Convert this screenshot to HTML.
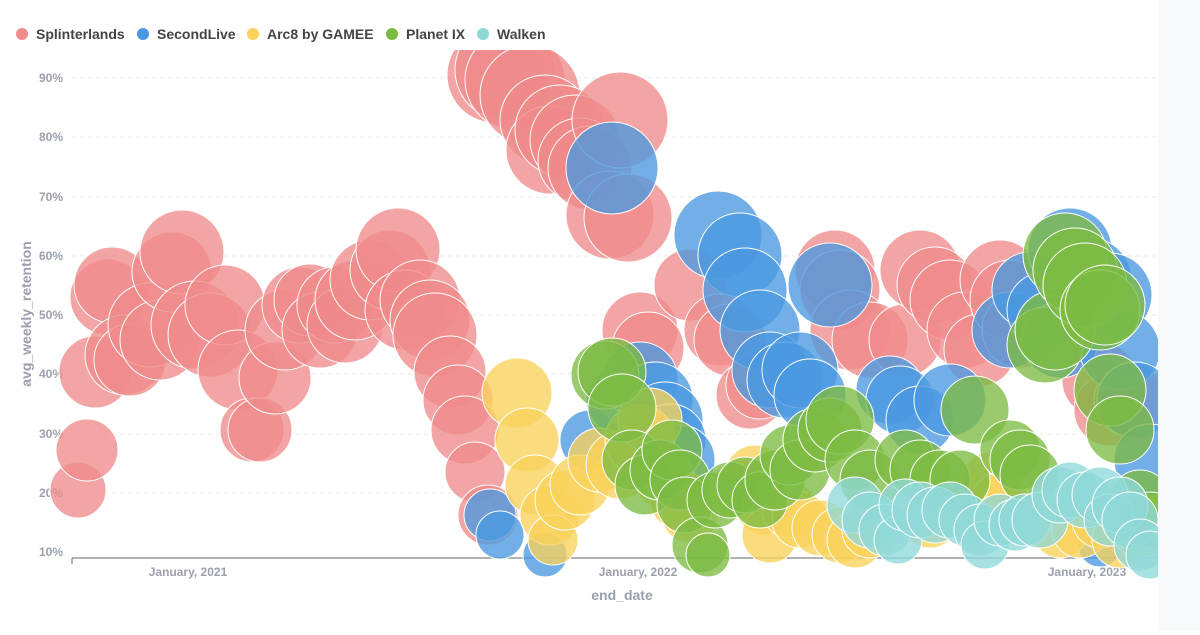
<!DOCTYPE html>
<html><head><meta charset="utf-8"><style>
body{margin:0;width:1200px;height:630px;background:#fff;font-family:"Liberation Sans",sans-serif;overflow:hidden}
</style></head><body>
<svg width="1200" height="630" xmlns="http://www.w3.org/2000/svg" font-family="Liberation Sans, sans-serif">
<rect x="1158" y="0" width="42" height="630" fill="#f8f9fb"/>
<g stroke="#e6e8ec" stroke-dasharray="4,4">
<line x1="72" x2="1158" y1="78" y2="78"/><line x1="72" x2="1158" y1="137" y2="137"/><line x1="72" x2="1158" y1="197" y2="197"/><line x1="72" x2="1158" y1="256" y2="256"/><line x1="72" x2="1158" y1="315" y2="315"/><line x1="72" x2="1158" y1="374" y2="374"/><line x1="72" x2="1158" y1="434" y2="434"/><line x1="72" x2="1158" y1="493" y2="493"/>
</g>
<g font-size="12" font-weight="bold" fill="#9aa0ad" text-anchor="end">
<text x="63" y="82">90%</text><text x="63" y="141">80%</text><text x="63" y="201">70%</text><text x="63" y="260">60%</text><text x="63" y="319">50%</text><text x="63" y="378">40%</text><text x="63" y="438">30%</text><text x="63" y="497">20%</text><text x="63" y="556">10%</text>
</g>
<text transform="translate(31,314) rotate(-90)" font-size="14" font-weight="bold" fill="#9aa0ad" text-anchor="middle">avg_weekly_retention</text>
<line x1="72" x2="1158" y1="558" y2="558" stroke="#666"/>
<line x1="72" x2="72" y1="558" y2="564" stroke="#666"/>
<g font-size="12" font-weight="bold" fill="#9aa0ad" text-anchor="middle">
<text x="188" y="576">January, 2021</text><text x="638" y="576">January, 2022</text><text x="1087" y="576">January, 2023</text>
</g>
<text x="622" y="600" font-size="14" font-weight="bold" fill="#9aa0ad" text-anchor="middle">end_date</text>
<svg x="0" y="50" width="1158" height="580" viewBox="0 50 1158 580" overflow="hidden">
<g id="c" stroke="#fff" stroke-width="1" fill-opacity="0.78"></g>
</svg>
<g font-size="14" font-weight="bold" fill="#444">
<circle cx="22" cy="34" r="6" fill="#ef8b8b"/><text x="36" y="39">Splinterlands</text>
<circle cx="143" cy="34" r="6" fill="#4a98e0"/><text x="157" y="39">SecondLive</text>
<circle cx="253" cy="34" r="6" fill="#f9d25a"/><text x="267" y="39">Arc8 by GAMEE</text>
<circle cx="392" cy="34" r="6" fill="#7cbb42"/><text x="406" y="39">Planet IX</text>
<circle cx="483" cy="34" r="6" fill="#8fd8d8"/><text x="497" y="39">Walken</text>
</g>
</svg>
<script>
const S=[[78,490,28],[87,450,31],[95,372,36],[108,297,38],[112,285,38],[125,355,40],[130,360,36],[150,325,42],[160,340,40],[172,272,40],[182,252,42],[195,325,44],[210,335,42],[225,305,40],[238,370,40],[252,430,32],[260,430,32],[275,378,36],[285,330,40],[300,305,38],[310,300,36],[320,330,38],[335,305,38],[345,325,38],[355,300,40],[370,280,40],[390,270,40],[398,250,42],[405,310,40],[420,300,40],[430,320,40],[435,335,42],[450,372,36],[458,400,35],[465,430,34],[475,472,30],[488,515,30],[495,75,48],[505,70,50],[515,80,50],[530,95,50],[545,120,45],[550,150,44],[560,130,45],[575,140,45],[580,160,42],[590,168,42],[610,215,44],[620,120,48],[628,218,44],[640,330,38],[648,348,36],[690,285,36],[720,330,36],[730,340,36],[750,395,34],[760,385,34],[835,270,40],[840,290,40],[850,330,40],[870,340,38],[905,340,36],[920,270,40],[935,285,38],[950,300,40],[965,330,38],[980,350,36],[1000,280,40],[1010,300,40],[1020,330,38],[1100,380,38],[1110,410,36],[1130,400,36]];
const B=[[612,168,46],[490,515,26],[500,535,24],[545,555,22],[590,440,30],[620,400,34],[640,380,38],[655,400,38],[665,420,38],[670,440,36],[680,460,35],[718,235,44],[740,255,42],[745,290,42],[760,330,40],[770,370,38],[785,380,38],[800,370,38],[810,395,36],[830,285,42],[890,390,34],[900,400,34],[920,420,34],[950,400,36],[1010,330,38],[1030,290,38],[1045,310,38],[1060,340,38],[1070,250,42],[1090,280,42],[1110,295,42],[1120,350,40],[1135,400,38],[1150,460,36],[1100,545,22]];
const A=[[517,393,35],[527,440,32],[535,485,30],[550,515,30],[553,540,25],[565,500,30],[580,485,30],[600,460,32],[620,465,34],[640,440,35],[650,420,32],[665,480,30],[680,500,30],[690,515,28],[740,490,30],[755,475,30],[765,505,30],[770,535,28],[790,510,28],[800,520,28],[820,528,28],[840,535,28],[855,540,28],[870,530,28],[930,520,28],[950,510,28],[970,500,28],[990,480,28],[1000,500,28],[1040,520,28],[1060,530,28],[1080,530,28],[1100,520,28],[1120,540,28],[1140,530,28]];
const P=[[605,375,34],[612,372,34],[622,408,34],[632,460,30],[645,485,30],[660,470,30],[672,450,30],[680,480,30],[685,505,28],[700,545,28],[708,555,22],[715,500,28],[730,490,28],[745,485,28],[760,500,28],[775,480,30],[790,455,30],[800,470,30],[815,440,32],[830,430,32],[840,420,34],[855,460,30],[870,480,30],[905,460,30],[920,470,30],[940,480,30],[960,480,30],[975,410,34],[1010,450,30],[1020,460,30],[1030,475,30],[1045,345,38],[1055,330,40],[1065,255,42],[1075,270,42],[1085,285,42],[1100,310,40],[1105,305,40],[1110,390,36],[1120,430,34],[1140,500,30],[1150,520,28]];
const W=[[855,505,28],[870,520,28],[885,530,26],[898,540,24],[905,505,26],[920,510,28],[935,515,28],[950,510,28],[965,520,26],[980,530,26],[985,545,24],[1000,520,26],[1015,525,26],[1025,520,26],[1040,520,28],[1060,495,28],[1070,490,28],[1085,500,28],[1100,495,28],[1110,520,26],[1120,505,28],[1130,520,28],[1140,545,26],[1150,555,24]];
let h='';
[[S,'#ef8b8b'],[B,'#4a98e0'],[A,'#f9d25a'],[P,'#7cbb42'],[W,'#8fd8d8']].forEach(([d,c])=>d.forEach(p=>{h+=`<circle cx="${p[0]}" cy="${p[1]}" r="${p[2]}" fill="${c}"/>`}));
document.getElementById('c').innerHTML=h;
</script>
</body></html>
